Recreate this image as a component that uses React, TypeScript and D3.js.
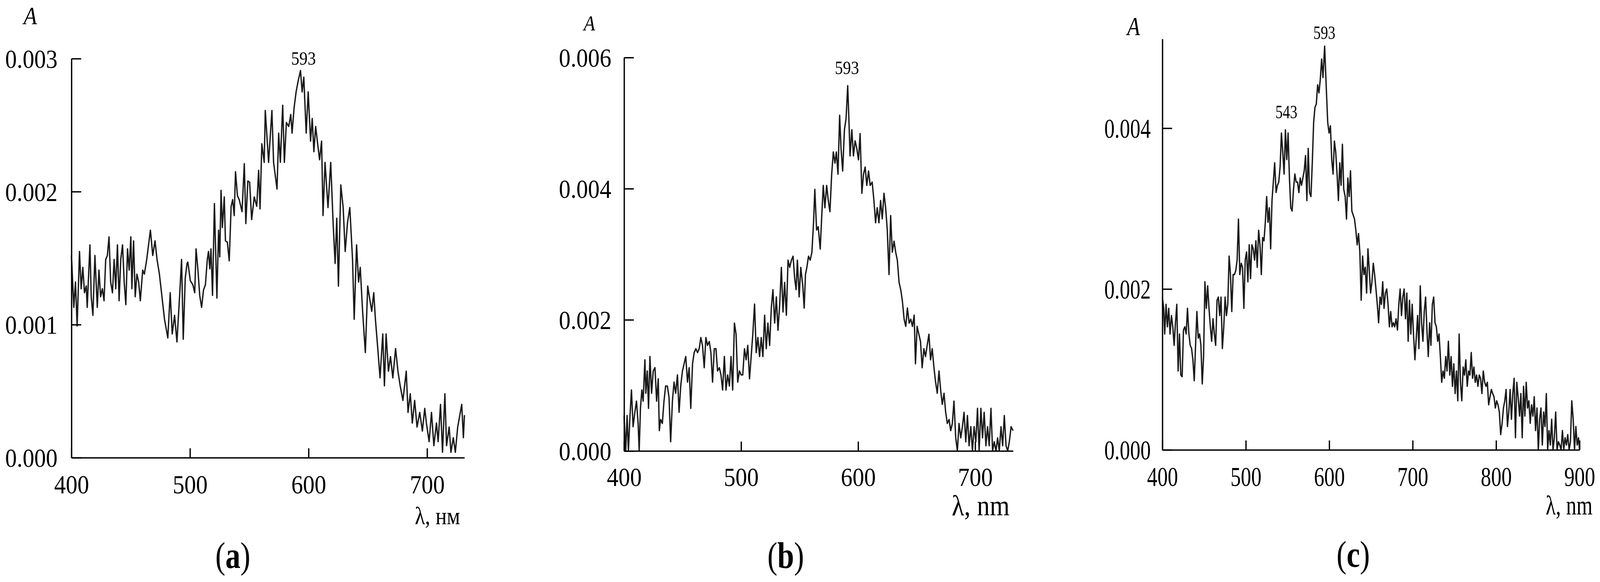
import React, { useEffect, useRef } from "react";
import * as d3 from "d3";

// Absorption spectra, [wavelength nm, absorbance x 10^-3]
const spectrumA: [number, number][] = [
  [400.0, 1.52], [402.0, 1.13], [403.4, 1.32], [404.8, 0.99], [406.8, 1.55], [408.2, 1.27], [409.6, 1.43], [411.0, 1.24],
  [412.5, 1.29], [413.3, 1.13], [415.6, 1.6], [416.7, 1.21], [418.1, 1.07], [419.8, 1.52], [421.8, 1.13], [423.2, 1.41],
  [424.6, 1.21], [426.1, 1.27], [427.5, 1.18], [428.9, 1.49], [430.3, 1.52], [431.7, 1.66], [433.1, 1.32], [434.6, 1.24],
  [436.0, 1.49], [437.4, 1.27], [438.8, 1.6], [440.2, 1.18], [441.6, 1.49], [443.1, 1.6], [444.5, 1.32], [445.9, 1.15],
  [447.3, 1.57], [448.7, 1.41], [450.1, 1.66], [451.0, 1.27], [452.4, 1.63], [453.8, 1.21], [455.2, 1.38], [456.7, 1.32],
  [458.1, 1.18], [460.1, 1.41], [461.5, 1.38], [463.5, 1.49], [466.6, 1.71], [468.6, 1.52], [470.5, 1.63], [472.2, 1.49],
  [474.2, 1.38], [475.6, 1.27], [478.5, 1.04], [481.3, 0.9], [483.3, 1.24], [485.0, 0.93], [487.0, 1.07], [489.0, 0.87],
  [491.2, 1.21], [492.9, 1.49], [494.3, 0.89], [496.0, 1.35], [497.5, 1.46], [498.2, 1.47], [500.3, 1.33], [502.4, 1.3],
  [504.0, 1.24], [505.1, 1.57], [506.7, 1.41], [508.2, 1.22], [509.8, 1.13], [511.4, 1.26], [513.0, 1.3], [514.6, 1.49],
  [515.6, 1.55], [516.7, 1.42], [517.7, 1.57], [519.0, 1.22], [520.6, 1.91], [522.7, 1.2], [524.1, 1.71], [525.1, 1.51],
  [526.2, 2.01], [527.3, 1.73], [528.9, 1.96], [529.9, 1.63], [531.5, 1.62], [533.1, 1.48], [534.7, 1.89], [536.0, 1.94],
  [537.3, 1.82], [538.4, 2.15], [540.0, 1.97], [541.5, 1.94], [543.9, 1.85], [545.8, 2.21], [547.1, 1.76], [548.8, 2.08],
  [550.3, 2.07], [552.0, 1.79], [554.2, 1.96], [556.3, 1.89], [557.9, 2.16], [559.1, 1.87], [560.6, 2.36], [562.6, 2.22],
  [563.5, 2.61], [566.3, 2.22], [569.1, 2.61], [570.5, 2.22], [573.4, 2.02], [574.8, 2.44], [576.2, 2.22], [578.2, 2.65],
  [579.6, 2.22], [581.3, 2.52], [583.3, 2.49], [585.0, 2.58], [586.1, 2.44], [587.8, 2.63], [589.5, 2.75], [591.2, 2.83],
  [593.2, 2.91], [594.6, 2.75], [596.0, 2.86], [598.0, 2.44], [599.7, 2.75], [601.7, 2.38], [603.1, 2.55], [604.5, 2.3],
  [606.0, 2.49], [607.4, 2.38], [609.3, 2.24], [611.0, 2.38], [612.2, 1.82], [613.9, 2.22], [616.4, 1.88], [618.7, 2.22],
  [620.7, 1.77], [622.4, 1.46], [623.8, 1.8], [625.2, 1.29], [627.2, 2.05], [629.2, 1.88], [630.9, 1.55], [632.9, 1.77],
  [634.8, 1.88], [637.1, 1.49], [638.5, 1.04], [640.5, 1.6], [642.2, 1.32], [643.6, 1.43], [645.6, 1.1], [647.9, 0.79],
  [649.9, 1.29], [651.3, 1.21], [653.3, 1.1], [655.0, 1.24], [656.4, 1.04], [658.4, 0.82], [660.3, 0.6], [662.6, 0.93],
  [664.0, 0.54], [665.4, 0.93], [667.4, 0.65], [669.1, 0.76], [671.1, 0.6], [673.4, 0.82], [675.4, 0.65], [677.3, 0.54],
  [679.6, 0.43], [682.4, 0.65], [683.9, 0.34], [685.8, 0.48], [687.5, 0.26], [689.5, 0.43], [691.5, 0.23], [693.8, 0.34],
  [696.0, 0.2], [698.0, 0.37], [699.4, 0.26], [701.7, 0.12], [703.7, 0.34], [705.7, 0.09], [707.9, 0.26], [709.3, 0.12],
  [711.3, 0.4], [713.0, 0.04], [715.0, 0.48], [716.4, 0.09], [718.6, 0.23], [720.1, 0.04], [722.1, 0.15], [723.8, 0.04],
  [725.8, 0.23], [729.2, 0.4], [730.6, 0.15], [731.5, 0.32],
];

const spectrumB: [number, number][] = [
  [400.0, 0.54], [401.4, 0], [402.6, 0.54], [403.7, 0], [404.9, 0.48], [406.3, 0.93], [407.7, 0.37], [409.2, 0.59],
  [410.6, 0.76], [412.0, 0.42], [412.9, 0], [414.0, 0.65], [415.2, 0.93], [416.3, 0.76], [417.8, 1.39], [418.6, 0.88],
  [419.8, 1.22], [420.9, 0.65], [422.1, 1.44], [423.5, 0.88], [424.9, 1.22], [426.4, 1.27], [427.8, 0.76], [429.2, 1.1],
  [430.1, 0.31], [431.2, 0.48], [432.7, 0.42], [434.1, 0.76], [435.5, 0.99], [437.0, 0.99], [438.4, 0.82], [439.8, 0.14],
  [441.3, 0.76], [442.7, 1.05], [444.1, 0.88], [445.6, 1.16], [447.0, 0.59], [448.4, 0.99], [449.9, 1.22], [451.3, 1.33],
  [452.7, 1.44], [454.2, 1.05], [455.6, 1.27], [457.0, 0.65], [458.5, 1.33], [459.9, 1.5], [461.3, 1.56], [462.8, 1.5],
  [464.2, 1.56], [465.6, 1.73], [467.0, 1.61], [468.5, 1.27], [469.9, 1.73], [471.3, 1.61], [472.8, 1.67], [474.2, 1.5],
  [475.6, 1.05], [477.1, 1.56], [478.5, 1.56], [479.9, 1.22], [481.4, 1.27], [482.8, 1.16], [484.2, 0.93], [485.7, 1.44],
  [487.1, 0.93], [488.5, 1.16], [490.0, 0.99], [491.4, 1.44], [492.8, 0.93], [494.3, 1.95], [495.7, 1.78], [497.1, 1.05],
  [498.6, 1.22], [500.0, 1.16], [501.4, 1.16], [502.9, 1.56], [504.3, 1.39], [505.7, 1.61], [507.2, 1.1], [508.6, 1.44],
  [510.0, 1.78], [511.5, 2.24], [512.9, 1.5], [514.3, 1.73], [515.8, 1.44], [517.2, 1.73], [518.6, 1.44], [520.1, 2.07],
  [521.5, 1.56], [522.9, 1.95], [524.4, 1.61], [525.8, 2.18], [527.2, 2.46], [528.7, 1.95], [530.1, 2.35], [531.5, 1.84],
  [533.0, 2.24], [534.4, 2.8], [535.8, 2.12], [537.2, 2.57], [538.7, 2.07], [540.1, 2.91], [541.5, 2.8], [543.0, 2.91],
  [544.4, 2.97], [545.8, 2.63], [547.0, 2.46], [548.1, 2.91], [549.6, 2.35], [551.0, 2.8], [552.7, 2.52], [553.9, 2.18],
  [555.0, 2.69], [556.2, 2.8], [557.6, 2.97], [559.0, 2.91], [560.5, 3.03], [561.9, 3.48], [563.0, 3.99], [564.5, 3.37],
  [565.9, 3.42], [567.6, 3.08], [568.8, 3.54], [570.2, 4.05], [571.6, 3.71], [573.1, 4.05], [574.5, 3.82], [575.9, 3.65],
  [577.4, 4.22], [578.8, 4.56], [580.2, 4.39], [581.4, 4.56], [582.8, 4.22], [584.2, 5.12], [585.4, 4.61], [586.8, 4.27],
  [588.3, 4.9], [589.7, 5.07], [591.1, 5.57], [592.0, 5.12], [593.1, 4.5], [594.6, 4.9], [596.0, 4.5], [597.4, 4.73],
  [598.9, 4.61], [600.3, 4.44], [601.7, 4.84], [603.2, 3.93], [604.6, 4.22], [606.0, 4.33], [607.4, 4.05], [608.9, 4.27],
  [610.3, 4.05], [612.0, 4.1], [613.5, 3.82], [614.9, 3.48], [616.3, 3.71], [617.8, 3.48], [619.2, 3.82], [620.6, 3.54],
  [622.1, 3.93], [623.5, 3.71], [624.9, 3.37], [626.4, 2.69], [627.8, 3.59], [629.2, 3.03], [630.7, 3.2], [632.1, 3.03],
  [633.5, 2.91], [635.0, 2.57], [636.4, 2.46], [637.8, 2.29], [639.3, 2.01], [640.7, 1.9], [642.1, 2.18], [643.6, 1.95],
  [645.0, 2.01], [646.4, 1.9], [647.9, 2.07], [649.0, 1.33], [650.4, 1.9], [651.9, 1.78], [653.3, 1.67], [654.7, 1.27],
  [656.2, 1.56], [657.6, 1.44], [659.0, 1.61], [660.5, 1.78], [661.9, 1.39], [663.3, 1.56], [664.8, 1.27], [666.2, 1.05],
  [667.6, 0.88], [669.1, 1.22], [670.5, 0.93], [671.9, 0.71], [673.4, 0.88], [674.8, 0.59], [676.2, 0.42], [677.7, 0.48],
  [679.1, 0.31], [680.5, 0.42], [681.9, 0.76], [683.4, 0.2], [684.8, 0], [686.2, 0.42], [687.7, 0.2], [689.1, 0.37],
  [690.5, 0.59], [692.0, 0.14], [693.4, 0.54], [694.8, 0.08], [696.3, 0.37], [697.7, 0], [699.1, 0.37], [700.6, 0.14],
  [702.0, 0.65], [703.4, 0], [704.9, 0.65], [706.3, 0.2], [707.7, 0.59], [709.2, 0.08], [710.6, 0.37], [712.0, 0.08],
  [713.5, 0.65], [714.9, 0], [716.3, 0.14], [717.8, 0], [719.2, 0.2], [720.6, 0], [722.1, 0.37], [723.5, 0.08],
  [724.9, 0.54], [726.4, 0.08], [727.8, 0], [729.2, 0.14], [730.7, 0.37], [732.4, 0.31],
];

const spectrumC: [number, number][] = [
  [400.0, 1.9], [401.6, 1.76], [402.8, 1.44], [404.4, 1.81], [406.0, 1.53], [407.6, 1.76], [409.2, 1.44], [410.9, 1.67],
  [412.5, 1.53], [414.1, 1.3], [415.7, 1.58], [417.3, 1.81], [418.9, 0.98], [420.5, 1.44], [422.1, 0.93], [423.7, 0.91],
  [425.3, 1.49], [426.9, 1.53], [428.5, 1.44], [430.1, 1.76], [431.8, 1.44], [433.4, 1.3], [435.0, 1.26], [436.6, 1.12],
  [438.2, 0.86], [439.8, 1.3], [441.4, 1.72], [443.0, 1.39], [444.6, 1.44], [446.2, 1.3], [447.8, 0.82], [449.4, 1.16],
  [451.0, 2.09], [452.7, 1.76], [454.3, 2.04], [455.9, 1.76], [457.5, 1.53], [459.1, 1.35], [460.7, 1.63], [462.3, 1.44],
  [463.9, 1.3], [465.5, 1.86], [467.1, 1.9], [468.7, 1.67], [470.3, 1.9], [471.9, 1.26], [473.6, 1.53], [475.2, 1.9],
  [476.8, 1.67], [478.4, 1.81], [480.0, 2.41], [481.6, 2.18], [483.2, 1.72], [484.8, 2.18], [486.4, 2.18], [488.0, 2.23],
  [489.6, 2.36], [491.2, 2.87], [492.8, 2.18], [494.5, 2.32], [496.1, 2.27], [497.7, 1.76], [499.3, 2.36], [500.9, 2.46],
  [502.5, 2.09], [504.1, 2.55], [505.7, 2.13], [507.3, 2.55], [508.9, 2.5], [510.5, 2.36], [512.1, 2.6], [513.7, 2.27],
  [515.4, 2.73], [517.0, 2.55], [518.6, 2.18], [520.2, 2.64], [521.8, 2.6], [523.4, 2.83], [525.0, 3.15], [526.6, 2.83],
  [528.2, 3.01], [529.8, 2.5], [531.4, 3.1], [533.0, 3.33], [534.6, 3.57], [536.3, 3.2], [537.9, 3.29], [539.5, 3.33],
  [541.1, 3.52], [542.7, 3.94], [544.3, 3.7], [545.9, 3.43], [547.5, 3.98], [549.1, 3.61], [550.7, 3.94], [552.3, 3.38],
  [553.9, 3.01], [555.5, 2.97], [557.2, 3.24], [558.8, 3.43], [560.4, 3.33], [562.0, 3.33], [563.6, 3.2], [565.2, 3.38],
  [566.8, 3.29], [568.4, 3.38], [570.0, 3.47], [571.6, 3.66], [573.2, 3.1], [574.8, 3.75], [576.4, 3.2], [578.1, 3.15],
  [579.7, 3.57], [581.3, 4.07], [582.9, 4.26], [584.5, 4.3], [586.1, 4.54], [587.7, 4.44], [589.3, 4.61], [590.9, 4.86],
  [592.5, 4.63], [594.5, 5.02], [596.5, 4.49], [598.2, 4.07], [599.8, 3.94], [601.4, 4.03], [603.0, 3.61], [604.6, 3.43],
  [606.2, 3.84], [607.8, 3.7], [609.4, 3.43], [611.0, 3.1], [612.6, 3.57], [614.2, 3.29], [615.8, 3.8], [617.4, 3.24],
  [619.1, 3.15], [620.7, 2.87], [622.3, 3.38], [623.9, 3.15], [625.5, 3.47], [627.1, 2.97], [628.7, 2.92], [630.3, 2.87],
  [631.9, 2.73], [633.5, 2.55], [635.1, 2.69], [636.7, 2.46], [638.3, 1.86], [640.0, 2.41], [641.6, 2.18], [643.2, 2.27],
  [644.8, 1.95], [646.4, 2.5], [648.0, 2.23], [649.6, 1.95], [651.2, 2.09], [652.8, 2.32], [654.4, 2.18], [656.0, 2.0],
  [657.6, 1.81], [659.2, 1.58], [660.9, 1.9], [662.5, 1.81], [664.1, 2.09], [665.7, 1.76], [667.3, 1.95], [668.9, 2.0],
  [670.5, 1.81], [672.1, 1.53], [673.7, 1.72], [675.3, 1.53], [676.9, 1.58], [678.5, 1.53], [680.1, 1.63], [681.8, 1.49],
  [683.4, 1.81], [685.0, 2.0], [686.6, 1.67], [688.2, 1.9], [689.8, 2.0], [691.4, 1.63], [693.0, 1.95], [694.6, 1.35],
  [696.2, 1.86], [697.8, 1.44], [699.4, 1.81], [701.0, 1.44], [702.7, 1.12], [704.3, 1.39], [705.9, 1.67], [707.5, 1.26],
  [709.1, 2.04], [710.7, 1.58], [712.3, 1.35], [713.9, 1.72], [715.5, 1.9], [717.1, 1.49], [718.7, 1.16], [720.3, 1.58],
  [721.9, 1.3], [723.6, 1.81], [725.2, 1.9], [726.8, 1.58], [728.4, 1.53], [730.0, 1.35], [731.6, 1.44], [733.2, 1.16],
  [734.8, 0.84], [736.4, 0.98], [738.0, 0.89], [739.6, 1.16], [741.2, 0.98], [742.8, 1.35], [744.5, 0.93], [746.1, 1.16],
  [747.7, 0.79], [749.3, 1.07], [750.9, 0.7], [752.5, 0.98], [754.1, 0.61], [755.7, 1.44], [757.3, 0.84], [758.9, 0.61],
  [760.5, 1.03], [762.1, 0.93], [763.7, 1.12], [765.4, 0.79], [767.0, 0.98], [768.6, 0.93], [770.2, 1.21], [771.8, 0.89],
  [773.4, 1.03], [775.0, 0.84], [776.6, 0.93], [778.2, 0.79], [779.8, 0.93], [781.4, 0.89], [783.0, 0.7], [784.6, 0.98],
  [786.3, 0.84], [787.9, 0.79], [789.5, 0.84], [791.1, 0.56], [792.7, 0.66], [794.3, 0.75], [795.9, 0.7], [797.5, 0.66],
  [799.1, 0.52], [800.7, 0.61], [802.3, 0.56], [803.9, 0.47], [805.5, 0.19], [807.2, 0.33], [808.8, 0.52], [810.4, 0.61],
  [812.0, 0.75], [813.6, 0.29], [815.2, 0.47], [816.8, 0.75], [818.4, 0.38], [820.0, 0.7], [821.6, 0.89], [823.2, 0.15],
  [824.8, 0.84], [826.4, 0.66], [828.1, 0.42], [829.7, 0.7], [831.3, 0.15], [832.9, 0.79], [834.5, 0.42], [836.1, 0.84],
  [837.7, 0.52], [839.3, 0.61], [840.9, 0.33], [842.5, 0.56], [844.1, 0.42], [845.7, 0.66], [847.3, 0.24], [849.0, 0.52],
  [850.6, 0], [852.2, 0.38], [853.8, 0.52], [855.4, 0.06], [857.0, 0.47], [858.6, 0.29], [860.2, 0.7], [861.8, 0],
  [863.4, 0.24], [865.0, 0.06], [866.6, 0.38], [868.2, 0], [869.8, 0.15], [871.4, 0.47], [873.1, 0], [874.7, 0.1],
  [876.3, 0.06], [877.9, 0], [879.5, 0.24], [881.1, 0], [882.7, 0.15], [884.3, 0.06], [885.9, 0.19], [887.5, 0],
  [889.1, 0.1], [890.7, 0.61], [892.4, 0.38], [894.0, 0], [895.6, 0.29], [897.2, 0.06], [898.8, 0.15], [900.0, 0],
];

// tick values (absorbance in units of 10^-3)
const yTicksA = [0, 1, 2, 3];
const yTicksB = [0, 2, 4, 6];
const yTicksC = [0, 2, 4];
const xTicksA = [400, 500, 600, 700];
const xTicksB = [400, 500, 600, 700];
const xTicksC = [400, 500, 600, 700, 800, 900];

const W = 4260;
const H = 1491;
const FONT = "'Liberation Serif', 'Times New Roman', serif";

const panels = [
  {
    data: spectrumA, xTicks: xTicksA, yTicks: yTicksA,
    xDomain: [400, 731.5], yDomain: [0, 3],
    xRange: [190.2, 1236.6], yRange: [1172.4, 150.2],
    tickFont: 62, sy: 1.1, yPad: 37, xLabelOffset: 92,
    xTitle: { text: "λ, нм", x: 1225, y: 1343, fs: 56, sy: 1.12 },
    yTitle: { x: 63, y: 62, fs: 58, sy: 1.1 },
    peaks: [{ text: "593", x: 808, y: 166, fs: 44, sy: 1.12 }],
    caption: { letter: "a", x: 620, y: 1455 },
  },
  {
    data: spectrumB, xTicks: xTicksB, yTicks: yTicksB,
    xDomain: [400, 732.4], yDomain: [0, 6],
    xRange: [1661.6, 2697.3], yRange: [1155.3, 147.4],
    tickFont: 62, sy: 1.08, yPad: 34, xLabelOffset: 90,
    xTitle: { text: "λ, nm", x: 2688, y: 1320, fs: 68, sy: 1.1 },
    yTitle: { x: 1554, y: 78, fs: 50, sy: 1.1 },
    peaks: [{ text: "593", x: 2255, y: 190, fs: 43, sy: 1.12 }],
    caption: { letter: "b", x: 2092, y: 1455 },
  },
  {
    data: spectrumC, xTicks: xTicksC, yTicks: yTicksC,
    xDomain: [400, 900], yDomain: [0, 5.11],
    xRange: [3094.8, 4205.5], yRange: [1152.4, 99.8],
    tickFont: 55, sy: 1.28, yPad: 31, xLabelOffset: 93,
    xTitle: { text: "λ, nm", x: 4240, y: 1318, fs: 55, sy: 1.25 },
    yTitle: { x: 3001, y: 90, fs: 56, sy: 1.2 },
    peaks: [
      { text: "593", x: 3526, y: 100, fs: 39, sy: 1.25 },
      { text: "543", x: 3425, y: 303, fs: 39, sy: 1.25 },
    ],
    caption: { letter: "c", x: 3603, y: 1452 },
  },
];

const App: React.FC = () => {
  const ref = useRef<SVGSVGElement | null>(null);

  useEffect(() => {
    const svg = d3.select(ref.current);
    svg.selectAll("*").remove();

    svg.append("rect").attr("width", W).attr("height", H).attr("fill", "#fff");

    panels.forEach((p) => {
      const g = svg.append("g");
      const x = d3.scaleLinear().domain(p.xDomain).range(p.xRange);
      const y = d3.scaleLinear().domain(p.yDomain).range(p.yRange);

      // spectrum
      const line = d3
        .line<[number, number]>()
        .x((d) => x(d[0]))
        .y((d) => y(d[1]));
      g.append("path")
        .datum(p.data)
        .attr("d", line)
        .attr("fill", "none")
        .attr("stroke", "#1a1a1a")
        .attr("stroke-width", 3.6)
        .attr("stroke-linejoin", "round");

      // y axis, ticks pointing inward
      const yAxis = g
        .append("g")
        .attr("transform", `translate(${p.xRange[0]},0)`)
        .call(
          d3
            .axisLeft(y)
            .tickValues(p.yTicks)
            .tickSizeInner(-26)
            .tickSizeOuter(0)
            .tickPadding(p.yPad)
            .tickFormat((d) => ((d as number) * 0.001).toFixed(3))
        );
      yAxis
        .selectAll("text")
        .attr("dy", null)
        .attr("y", p.tickFont * 0.34)
        .attr("transform", `scale(1,${p.sy})`);

      // x axis
      const xAxis = g
        .append("g")
        .attr("transform", `translate(0,${p.yRange[0]})`)
        .call(
          d3
            .axisBottom(x)
            .tickValues(p.xTicks)
            .tickSizeInner(-24)
            .tickSizeOuter(0)
            .tickFormat((d) => String(d))
        );
      xAxis
        .selectAll("text")
        .attr("dy", null)
        .attr("y", p.xLabelOffset / p.sy)
        .attr("transform", `scale(1,${p.sy})`);

      [yAxis, xAxis].forEach((a) => {
        a.selectAll("path, line").attr("stroke", "#000").attr("stroke-width", 3.5);
        a.selectAll("text")
          .attr("fill", "#000")
          .attr("font-family", FONT)
          .attr("font-size", p.tickFont);
        a.attr("font-family", null).attr("font-size", null);
      });

      const label = (xp: number, yp: number, sy: number) =>
        g
          .append("text")
          .attr("transform", `translate(${xp},${yp}) scale(1,${sy})`)
          .attr("font-family", FONT)
          .attr("fill", "#000");

      // axis titles
      label(p.yTitle.x, p.yTitle.y, p.yTitle.sy)
        .attr("font-size", p.yTitle.fs)
        .attr("font-style", "italic")
        .text("A");
      label(p.xTitle.x, p.xTitle.y, p.xTitle.sy)
        .attr("font-size", p.xTitle.fs)
        .attr("text-anchor", "end")
        .text(p.xTitle.text);

      // peak annotations
      p.peaks.forEach((pk) => {
        label(pk.x, pk.y, pk.sy)
          .attr("font-size", pk.fs)
          .attr("text-anchor", "middle")
          .text(pk.text);
      });

      // panel caption
      const cap = label(p.caption.x, p.caption.y, 1.2)
        .attr("font-size", 80)
        .attr("text-anchor", "middle");
      cap.append("tspan").text("(");
      cap.append("tspan").attr("font-weight", "bold").text(p.caption.letter);
      cap.append("tspan").text(")");
    });
  }, []);

  // fill the viewport exactly, whatever its CSS size turns out to be
  return (
    <svg
      ref={ref}
      viewBox={`0 0 ${W} ${H}`}
      preserveAspectRatio="none"
      style={{ position: "fixed", left: 0, top: 0, width: "100vw", height: "100vh", display: "block" }}
    />
  );
};

export default App;
